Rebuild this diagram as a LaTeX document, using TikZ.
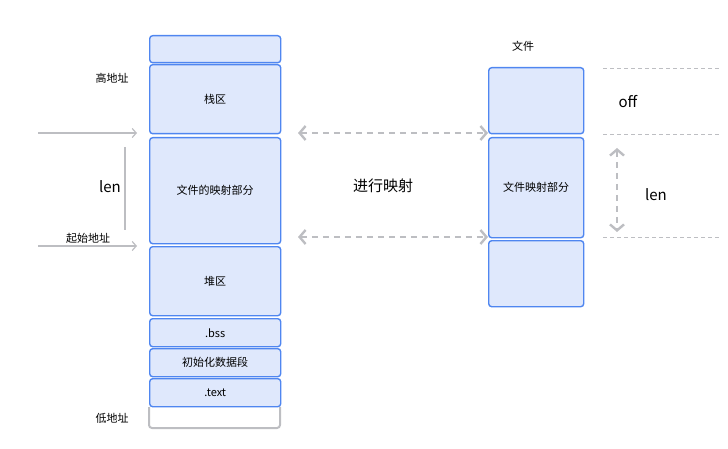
\documentclass[tikz,border=0pt]{standalone}
\usepackage{fontspec}
\setmainfont{Noto Sans CJK SC}
\usetikzlibrary
  {
    arrows.meta,   % open arrow heads
    positioning,
  }
\definecolor{boxfill}{HTML}{DFE8FC}
\definecolor{boxline}{HTML}{4F86F0}
\definecolor{guide}{HTML}{BDBEC2}

\begin{document}
\begin{tikzpicture}
    [
      x=1pt, y=-1pt,
      seg/.style=
        {
          rectangle,
          rounded corners=3pt,
          draw=boxline,
          fill=boxfill,
          line width=1.4pt,
          font=\fontsize{11}{13}\selectfont,
          anchor=north west,
          inner sep=0pt,
        },
      note/.style={font=\fontsize{11}{13}\selectfont},
      big/.style={font=\fontsize{15}{17}\selectfont},
      feed/.style={guide, line width=1.2pt, -{Straight Barb[length=4pt,width=9pt]}},
      maps/.style=
        {
          guide, line width=2.4pt, dash pattern=on 6pt off 5pt,
          {Straight Barb[length=6pt,width=14pt]}-{Straight Barb[length=6pt,width=14pt]},
        },
      rule/.style={guide, line width=1pt, dash pattern=on 4pt off 3pt},
    ]
    \useasboundingbox (0,0) rectangle (728,449);

    % process memory
    \node[seg, minimum width=131pt, minimum height=27pt]  (top)   at (149,35)  {};
    \node[seg, minimum width=131pt, minimum height=69pt]  (stack) at (149,64)  {栈区};
    \node[seg, minimum width=131pt, minimum height=106pt] (mmap)  at (149,137) {文件的映射部分};
    \node[seg, minimum width=131pt, minimum height=69pt]  (heap)  at (149,246) {堆区};
    \node[seg, minimum width=131pt, minimum height=28pt]  (bss)   at (149,318) {.bss};
    \node[seg, minimum width=131pt, minimum height=28pt]  (data)  at (149,348) {初始化数据段};
    \node[seg, minimum width=131pt, minimum height=28pt]  (text)  at (149,378) {.text};
    \draw[guide, line width=2pt, rounded corners=3pt]
      (149,407) -- (149,428) -- (280,428) -- (280,407);

    % file
    \node[seg, minimum width=95pt, minimum height=66pt]  (fhead) at (488,67)  {};
    \node[seg, minimum width=95pt, minimum height=100pt] (fmap)  at (488,137) {文件映射部分};
    \node[seg, minimum width=95pt, minimum height=66pt]  (ftail) at (488,240) {};

    % labels
    \node[note] (high)  at (112,78)  {高地址};
    \node[note] (low)   at (112,418) {低地址};
    \node[note] (file)  at (523,46)  {文件};
    \node[note] (start) at (88,238)  {起始地址};
    \node[big]  (lenl)  at (110,187) {len};
    \node[big]  (verb)  at (383,186) {进行映射};
    \node[big]  (off)   at (628,102) {off};
    \node[big]  (lenr)  at (656,195) {len};

    % address pointers
    \coordinate (p1) at (38,133);
    \coordinate (p2) at (38,246);
    \draw[feed, shorten >=12pt] (p1) -- (p1 -| mmap.west);
    \draw[feed, shorten >=12pt] (p2) -- (p2 -| mmap.west);
    \draw[guide, line width=1.2pt] (125,147) -- (125,230);

    % mapping
    \coordinate (m1) at (298,133);
    \coordinate (m2) at (298,237);
    \draw[maps] (m1) -- (m1 -| fmap.west);
    \draw[maps] (m2) -- (m2 -| fmap.west);

    % offsets in the file
    \draw[rule] (603,69)  -- (720,69);
    \draw[rule] (603,135) -- (720,135);
    \draw[rule] (603,237) -- (720,237);
    \draw[maps] (617,148) -- (617,232);
  \end{tikzpicture}
\end{document}
